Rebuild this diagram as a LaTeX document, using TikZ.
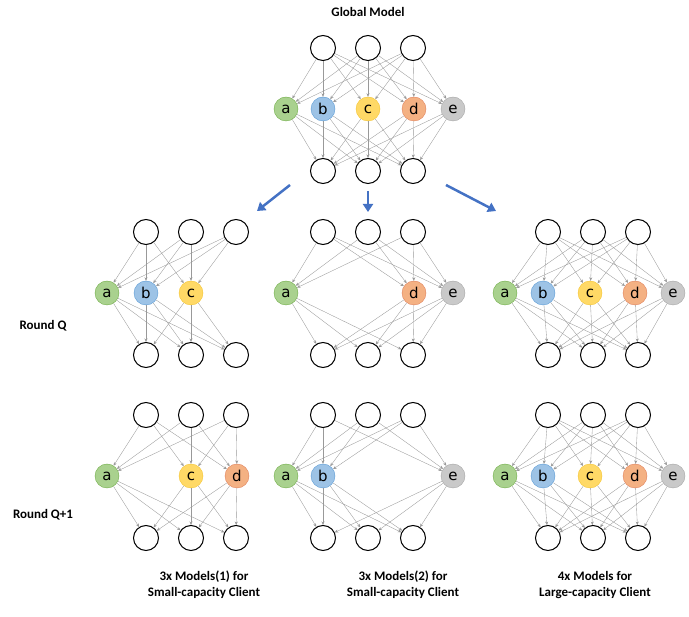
\documentclass[tikz,border=0pt]{standalone}
\usepackage{fontspec}
\setmainfont{Carlito}
\newfontfamily\lett{DejaVu Sans}
\usetikzlibrary{arrows.meta}
\definecolor{ca}{HTML}{A9D18E}\definecolor{cad}{HTML}{70AD47}
\definecolor{cb}{HTML}{9DC3E6}\definecolor{cbd}{HTML}{5B9BD5}
\definecolor{cc}{HTML}{FFD966}\definecolor{ccd}{HTML}{F4C430}
\definecolor{cd}{HTML}{F4B183}\definecolor{cdd}{HTML}{E0805A}
\definecolor{ce}{HTML}{C9C9C9}\definecolor{ced}{HTML}{A6A6A6}
\definecolor{arr}{HTML}{4472C4}
\begin{document}
\begin{tikzpicture}[x=1pt,y=-1pt,
 io/.style={circle,draw=black,line width=1pt,minimum size=25pt,inner sep=0pt},
 hid/.style={circle,minimum size=24pt,inner sep=0pt,font=\lett\fontsize{15}{15}\selectfont},
 ha/.style={hid,fill=ca,draw=cad},hb/.style={hid,fill=cb,draw=cbd},
 hc/.style={hid,fill=cc,draw=ccd},hd/.style={hid,fill=cd,draw=cdd},he/.style={hid,fill=ce,draw=ced},
 edge/.style={draw=gray!80,line width=0.35pt,-{Stealth[length=3.5pt,width=3pt]}},
 big/.style={draw=arr,line width=2.5pt,-{Triangle[length=8pt,width=10pt]}},
 lab/.style={font=\bfseries\fontsize{13}{16}\selectfont,align=center}]
\useasboundingbox (0,0) rectangle (689,617);
\def\net#1#2#3#4{%
 \foreach \k/\xx in {1/323,2/368,3/413}{\node[io] (#1t\k) at (\xx+#2,#3) {};
   \node[io] (#1o\k) at (\xx+#2,#3+123) {};}
 \foreach \h/\hx in {#4}{\node[h\h] (#1\h) at (\hx+#2,#3+61) {\h};
   \foreach \k in {1,2,3}{\path[edge] (#1t\k) -- (#1\h); \path[edge] (#1\h) -- (#1o\k);}}}
\net{g}{0}{48}{a/286,b/323,c/368,d/414,e/453}
\net{l}{-177}{232}{a/284,b/323,c/368}
\net{m}{0}{232}{a/286,d/414,e/453}
\net{r}{225}{232}{a/280,b/318,c/365,d/410,e/448}
\net{p}{-177}{415}{a/284,c/368,d/414}
\net{q}{0}{415}{a/286,b/323,e/453}
\net{s}{225}{415}{a/280,b/318,c/365,d/410,e/448}
\node[lab] (title) at (368,12) {Global Model};
\node[lab] (rq) at (43,326) {Round Q};
\node[lab] (rq1) at (43,515) {Round Q+1};
\node[lab] (c1) at (204,585) {3x Models(1) for\\Small-capacity Client};
\node[lab] (c2) at (403,585) {3x Models(2) for\\Small-capacity Client};
\node[lab] (c3) at (595,585) {4x Models for\\Large-capacity Client};
\coordinate (a1s) at (290,185); \coordinate (a1e) at (257,211);
\coordinate (a2s) at (368,191); \coordinate (a2e) at (368,212);
\coordinate (a3s) at (446,185); \coordinate (a3e) at (496,211);
\draw[big] (a1s) -- (a1e); \draw[big] (a2s) -- (a2e); \draw[big] (a3s) -- (a3e);
\end{tikzpicture}
\end{document}
